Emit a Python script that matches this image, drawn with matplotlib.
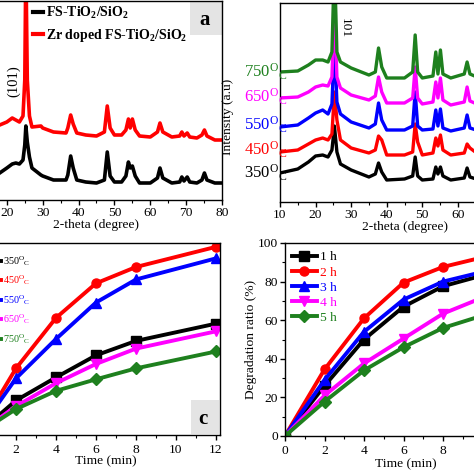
# plot.py
# Four-panel figure (cropped view): XRD patterns (a, b) and degradation
# ratio vs time (c, d). Axes placed in pixel units so the crop matches.

import matplotlib
matplotlib.use("Agg")
import matplotlib.pyplot as plt
from matplotlib.lines import Line2D
from matplotlib.patches import Rectangle

plt.rcParams['font.family'] = ['Liberation Serif', 'DejaVu Serif']
plt.rcParams['mathtext.fontset'] = 'custom'
plt.rcParams['mathtext.rm'] = 'Liberation Serif'
plt.rcParams['mathtext.it'] = 'Liberation Serif:italic'
plt.rcParams['mathtext.bf'] = 'Liberation Serif:bold'

# ---- panel a: XRD, two samples ----
a_theta = [18, 20, 21.5, 22.5, 23.5, 24.5, 25.0, 25.3, 25.7, 26.3, 27, 29.5, 30, 33,
           36.5, 37.0, 37.8, 38.5, 39.5, 42, 45, 47.2, 48.0, 48.8, 50, 52, 53.2, 53.9,
           54.4, 55.0, 55.8, 57, 60, 62.0, 62.7, 63.5, 66, 68.2, 68.8, 69.4, 70.3, 71,
           73, 74.4, 75.1, 75.8, 78, 80]
a_zr = [75, 78, 82, 80, 78, 84, 120, 240, 120, 84, 73, 74, 72, 68,
        67, 72, 85, 76, 67, 65, 64, 68, 94, 72, 65, 65, 70, 81,
        72, 81, 70, 64, 63, 68, 77, 68, 63, 64, 68, 64, 67, 63,
        62, 65, 70, 64, 60, 60]
a_fs = [27, 32, 36, 37, 36, 40, 55, 74, 58, 43, 32, 25, 24, 20,
        20, 25, 44, 32, 20, 18, 17, 20, 48, 24, 18, 18, 24, 38,
        32, 34, 24, 17, 17, 22, 32, 22, 17, 18, 23, 19, 23, 18,
        17, 20, 27, 20, 17, 17]
a_labels = [r'FS-TiO$_\mathbf{2}$/SiO$_\mathbf{2}$',
            r'Zr doped FS-TiO$_\mathbf{2}$/SiO$_\mathbf{2}$']

# ---- panel b: XRD vs calcination temperature ----
b_theta = [10, 15, 18, 20, 22, 23.5, 24.6, 25.3, 26.0, 27, 30, 35, 36.8, 37.7, 38.6,
           40, 45, 47.3, 48.0, 48.7, 50, 53, 53.8, 54.4, 55.1, 55.8, 58, 61.8, 62.6,
           63.4, 66]
b_750 = [130, 131, 137, 142, 142, 140, 150, 240, 150, 140, 134, 127, 130, 154, 135,
         124, 124, 130, 167, 130, 124, 126, 150, 128, 152, 128, 124, 128, 140, 128, 124]
b_650 = [104, 105, 110, 115, 117, 116, 125, 200, 125, 114, 107, 102, 106, 125, 110,
         99, 99, 104, 135, 104, 98, 100, 120, 104, 124, 102, 97, 100, 115, 101, 97]
b_550 = [75, 77, 84, 89, 92, 88, 98, 160, 100, 88, 80, 74, 78, 99, 82,
         72, 72, 76, 110, 76, 72, 73, 92, 76, 93, 74, 71, 74, 87, 74, 71]
b_450 = [50, 52, 58, 62, 64, 62, 68, 110, 82, 62, 54, 49, 52, 66, 62,
         47, 47, 50, 78, 60, 47, 49, 64, 56, 67, 52, 47, 49, 58, 54, 47]
b_350 = [29, 33, 40, 46, 47, 45, 52, 76, 50, 38, 32, 25, 28, 39, 30,
         22, 23, 26, 45, 26, 22, 23, 35, 28, 35, 26, 22, 24, 34, 25, 22]
temp_labels = ['350', '450', '550', '650', '750']

# ---- panels c, d: degradation ratio (%) vs time (min) ----
time_min = [0, 2, 4, 6, 8, 12]
c_350 = [0, 18, 30, 41.5, 49, 58]
c_450 = [0, 34.7, 61, 79, 87.5, 98]
c_550 = [0, 29.5, 50, 69, 81, 92]
c_650 = [0, 15, 27, 37, 45, 54]
c_750 = [0, 13.5, 23, 29, 34.7, 43.5]
d_1h = [0, 26, 50, 67, 77.6, 88.8]
d_2h = [0, 34.5, 61, 79.5, 87.6, 97.5]
d_3h = [0, 29, 54, 70.7, 80, 90]
d_4h = [0, 21, 37.6, 50.5, 63.4, 80]
d_5h = [0, 17.8, 34, 46, 56, 68.8]
hour_labels = ['1 h', '2 h', '3 h', '4 h', '5 h']

colors = ['black', '#ff0000', '#0000ff', '#ff00ff', '#1e801e']
markers = ['s', 'o', '^', 'v', 'D']

W = H = 474
fig = plt.figure(figsize=(4.74, 4.74), dpi=100)


def px_axes(left, top, right, bottom):
    return fig.add_axes([left / W, 1 - bottom / H, (right - left) / W, (bottom - top) / H])


def fx(x):
    return x / W


def fy(y):
    return 1 - y / H


def style(ax):
    for s in ax.spines.values():
        s.set_linewidth(1.0)
    ax.tick_params(which='major', direction='out', length=3.5, width=1.0, labelsize=9.7, pad=1.5)
    ax.tick_params(which='minor', direction='out', length=2, width=0.8)


# ---- a ----
ax_a = px_axes(-29, 1, 222, 200)
ax_a.plot(a_theta, a_fs, color='black', lw=2.6)
ax_a.plot(a_theta, a_zr, color='#ff0000', lw=2.6)
ax_a.set_xlim(10, 80)
ax_a.set_ylim(0, 199)
ax_a.set_xticks(range(10, 81, 10))
ax_a.set_xticks(range(15, 80, 10), minor=True)
ax_a.set_yticks([])
style(ax_a)
ax_a.set_xlabel('2-theta (degree)', fontsize=9.7, labelpad=0)
ax_a.text(fx(14), fy(81), '(101)', transform=fig.transFigure, rotation=90,
          ha='center', va='center', fontsize=10.5)
handles_a = [Line2D([], [], color='black', lw=3), Line2D([], [], color='#ff0000', lw=3)]
ax_a.legend(handles_a, a_labels, loc='upper left', bbox_to_anchor=(fx(33), fy(5)),
            bbox_transform=fig.transFigure, frameon=False, borderpad=0, borderaxespad=0,
            handlelength=0.75, handletextpad=0.2, labelspacing=0.45,
            prop={'weight': 'bold', 'size': 10})
ax_a.add_patch(Rectangle((fx(190), fy(35)), fx(32), 34 / H, transform=fig.transFigure,
                         facecolor='#e4e4e4', edgecolor='none', zorder=0))
ax_a.text(fx(205), fy(20), 'a', transform=fig.transFigure, ha='center', va='center',
          fontsize=15, fontweight='bold')

# ---- b ----
ax_b = px_axes(280, 3, 529, 202)
b_series = [b_350, b_450, b_550, b_650, b_750]
for vals, col in zip(b_series, colors):
    ax_b.plot(b_theta, vals, color=col, lw=2.4)
ax_b.set_xlim(10, 80)
ax_b.set_ylim(0, 199)
ax_b.set_xticks(range(10, 81, 10))
ax_b.set_xticks(range(15, 80, 10), minor=True)
ax_b.set_yticks([])
style(ax_b)
ax_b.set_xlabel('2-theta (degree)', fontsize=9.7, labelpad=0)
ax_b.set_ylabel('Intensity (a.u)', fontsize=9.7)
ax_b.yaxis.set_label_coords(-0.185, 0.43)
label_rows = [173, 150, 125, 97, 72]
for t, col, yy in zip(temp_labels, colors, label_rows):
    ax_b.text(fx(244), fy(yy), t + r'$^\mathrm{O}$$_\mathrm{C}$', transform=fig.transFigure,
              color=col, ha='left', va='center', fontsize=12)
ax_b.text(fx(345), fy(28), '101', transform=fig.transFigure, rotation=270,
          ha='center', va='center', fontsize=9.5)

# ---- c ----
ax_c = px_axes(-24, 243, 220, 435)
c_series = [c_350, c_450, c_550, c_650, c_750]
for vals, col, mk, t in zip(c_series, colors, markers, temp_labels):
    ax_c.plot(time_min, vals, color=col, lw=2.8, marker=mk, ms=6.5, mec=col,
              label=t + r'$^\mathrm{O}$$_\mathrm{C}$')
ax_c.set_xlim(0, 12.2)
ax_c.set_ylim(0, 100)
ax_c.set_xticks(range(0, 13, 2))
ax_c.set_xticks(range(1, 12, 2), minor=True)
style(ax_c)
ax_c.tick_params(axis='x', which='major', pad=3)
ax_c.set_xlabel('Time (min)', fontsize=9.7)
ax_c.xaxis.set_label_coords(0.53, -0.105)
ax_c.legend(loc='upper left', bbox_to_anchor=(fx(-19), fy(254)),
            bbox_transform=fig.transFigure, frameon=False, borderpad=0, borderaxespad=0,
            handlelength=2.0, handletextpad=0.2, labelspacing=0.55,
            fontsize=7.3, labelcolor='linecolor')
ax_c.add_patch(Rectangle((fx(191), fy(434)), fx(28), 34 / H, transform=fig.transFigure,
                         facecolor='#e4e4e4', edgecolor='none', zorder=0))
ax_c.text(fx(203), fy(419), 'c', transform=fig.transFigure, ha='center', va='center',
          fontsize=15, fontweight='bold')

# ---- d ----
ax_d = px_axes(285, 243, 526, 436)
d_series = [d_1h, d_2h, d_3h, d_4h, d_5h]
for vals, col, mk, lab in zip(d_series, colors, markers, hour_labels):
    ax_d.plot(time_min, vals, color=col, lw=2.8, marker=mk, ms=6.5, mec=col, label=lab)
ax_d.set_xlim(0, 12.2)
ax_d.set_ylim(0, 100)
ax_d.set_xticks(range(0, 13, 2))
ax_d.set_xticks(range(1, 12, 2), minor=True)
ax_d.set_yticks(range(0, 101, 20))
ax_d.set_yticks(range(10, 100, 20), minor=True)
style(ax_d)
ax_d.tick_params(axis='x', which='major', pad=3)
ax_d.set_xlabel('Time (min)', fontsize=9.7, labelpad=1)
ax_d.set_ylabel('Degradation ratio (%)', fontsize=9.7, labelpad=0.5)
ax_d.legend(loc='upper left', bbox_to_anchor=(fx(292), fy(251)),
            bbox_transform=fig.transFigure, frameon=False, borderpad=0, borderaxespad=0,
            handlelength=1.85, handletextpad=0.2, labelspacing=0.2,
            fontsize=9.7, labelcolor='linecolor')

fig.savefig('out.png', dpi=100)
